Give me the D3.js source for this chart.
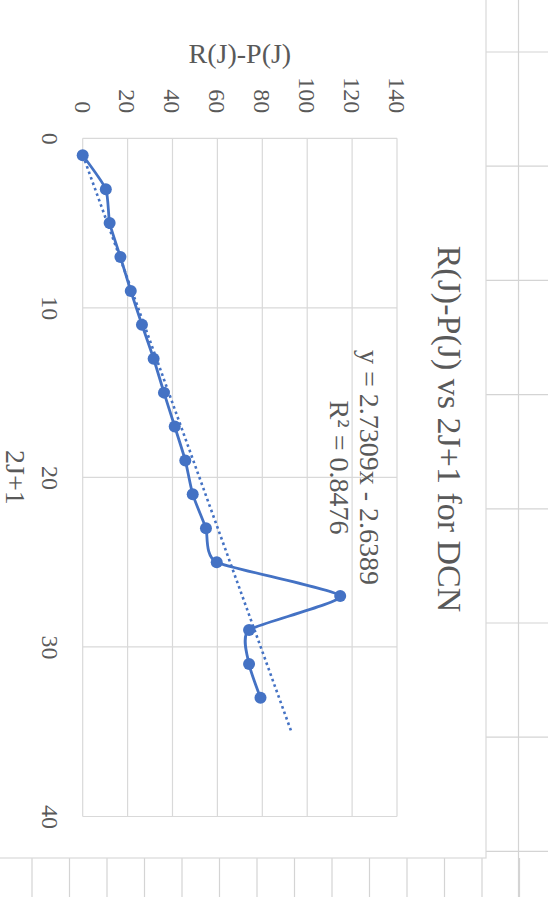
<!DOCTYPE html>
<html>
<head>
<meta charset="utf-8">
<script src="https://cdn.jsdelivr.net/npm/d3@7"></script>
<style>
  body { margin: 0; background: #fff; }
  svg { display: block; }
</style>
</head>
<body>
<div id="chart"></div>
<script>
const twoJplus1 = [1, 3, 5, 7, 9, 11, 13, 15, 17, 19, 21, 23, 25, 27, 29, 31, 33];
const rMinusP = [0, 10.3, 12, 16.8, 21.4, 26.4, 31.6, 36.2, 41, 45.7, 49, 54.9, 59.7, 114.7, 74.1, 74.1, 79.2];
// linear trendline as printed on the chart, forecast 2 forward
const trendSlope = 2.7309;
const trendIntercept = -2.6389;
const trendRange = [1, 35];
const xTicks = [0, 10, 20, 30, 40];
const yTicks = [0, 20, 40, 60, 80, 100, 120, 140];
const chartTitle = "R(J)-P(J) vs 2J+1 for DCN";
const xTitle = "2J+1";
const yTitle = "R(J)-P(J)";
const eqLines = ["y = 2.7309x - 2.6389", "R\u00B2 = 0.8476"];

const W = 548, H = 897;
const font = "'Liberation Serif', 'Times New Roman', serif";
const textCol = "#595959";
const gridCol = "#d9d9d9";
const blue = "#4472C4";

const svg = d3.select("#chart").append("svg")
  .attr("width", W)
  .attr("height", H);

// spreadsheet cells behind the chart
const sheet = svg.append("g").style("stroke", "#d4d4d4").style("stroke-width", 1.2);
sheet.selectAll("line.hrow")
  .data(d3.range(52, H, 114.2))
  .enter().append("line")
  .attr("x1", 486).attr("x2", W)
  .attr("y1", d => d).attr("y2", d => d);
sheet.append("line")
  .attr("x1", 518.5).attr("x2", 518.5)
  .attr("y1", 0).attr("y2", H);
sheet.selectAll("line.vcol")
  .data(d3.range(32, W, 37.5))
  .enter().append("line")
  .attr("x1", d => d).attr("x2", d => d)
  .attr("y1", 858).attr("y2", H);

// chart area
svg.append("rect")
  .attr("x", -2).attr("y", -2)
  .attr("width", 488).attr("height", 860)
  .style("fill", "#fff")
  .style("stroke", gridCol)
  .style("stroke-width", 1.2);

// the photo is the excel chart turned 90deg clockwise
const g = svg.append("g")
  .attr("transform", "translate(" + W + ",0) rotate(90)");

const x = d3.scaleLinear().domain([0, 40]).range([138.3, 816.5]);
const y = d3.scaleLinear().domain([0, 140]).range([465.3, 151]);

// gridlines
g.selectAll("line.xgrid")
  .data(xTicks)
  .enter().append("line")
  .attr("x1", d => x(d)).attr("x2", d => x(d))
  .attr("y1", y(0)).attr("y2", y(140))
  .style("stroke", gridCol).style("stroke-width", 1.2);
g.selectAll("line.ygrid")
  .data(yTicks)
  .enter().append("line")
  .attr("x1", x(0)).attr("x2", x(40))
  .attr("y1", d => y(d)).attr("y2", d => y(d))
  .style("stroke", gridCol).style("stroke-width", 1.2);

// axes
const xAxis = d3.axisBottom(x).tickValues(xTicks).tickSize(0).tickPadding(24);
const yAxis = d3.axisLeft(y).tickValues(yTicks).tickSize(0).tickPadding(25);

g.append("g")
  .attr("transform", "translate(0," + y(0) + ")")
  .call(xAxis)
  .call(a => a.select(".domain").remove());
g.append("g")
  .attr("transform", "translate(" + x(0) + ",0)")
  .call(yAxis)
  .call(a => a.select(".domain").remove());
g.selectAll(".tick text")
  .style("font-family", font)
  .style("font-size", "24px")
  .style("fill", textCol);

// axis titles
g.append("text")
  .attr("x", (x(0) + x(40)) / 2)
  .attr("y", 542)
  .style("text-anchor", "middle")
  .style("font-family", font)
  .style("font-size", "28px")
  .style("fill", textCol)
  .text(xTitle);
g.append("text")
  .attr("transform", "translate(63," + (y(0) + y(140)) / 2 + ") rotate(-90)")
  .style("text-anchor", "middle")
  .style("font-family", font)
  .style("font-size", "28px")
  .style("fill", textCol)
  .text(yTitle);

// chart title
g.append("text")
  .attr("x", 429)
  .attr("y", 110)
  .style("text-anchor", "middle")
  .style("font-family", font)
  .style("font-size", "34px")
  .style("fill", textCol)
  .text(chartTitle);

// trendline (dotted)
const trend = trendRange.map(v => [v, trendSlope * v + trendIntercept]);
g.append("path")
  .datum(trend)
  .attr("d", d3.line().x(d => x(d[0])).y(d => y(d[1])))
  .style("fill", "none")
  .style("stroke", blue)
  .style("stroke-width", 2.6)
  .style("stroke-dasharray", "2.6 3.2");

// data: smoothed line with markers
const pts = twoJplus1.map((v, i) => [v, rMinusP[i]]);
g.append("path")
  .datum(pts)
  .attr("d", d3.line().x(d => x(d[0])).y(d => y(d[1])).curve(d3.curveCardinal.tension(0.45)))
  .style("fill", "none")
  .style("stroke", blue)
  .style("stroke-width", 2.8);
g.selectAll("circle.pt")
  .data(pts)
  .enter().append("circle")
  .attr("cx", d => x(d[0]))
  .attr("cy", d => y(d[1]))
  .attr("r", 6)
  .style("fill", blue);

// trendline equation
g.selectAll("text.eq")
  .data(eqLines)
  .enter().append("text")
  .attr("x", 467.5)
  .attr("y", (d, i) => 188 + i * 30)
  .style("text-anchor", "middle")
  .style("font-family", font)
  .style("font-size", "28px")
  .style("fill", textCol)
  .text(d => d);
</script>
</body>
</html>
